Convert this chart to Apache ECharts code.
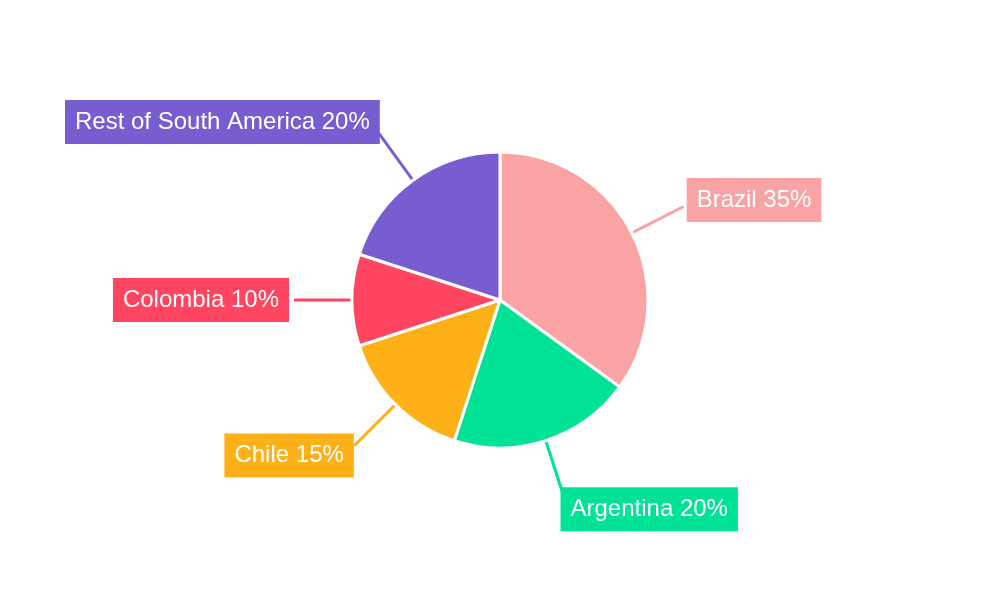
<!DOCTYPE html>
<html>
<head>
<meta charset="utf-8">
<script src="https://cdn.jsdelivr.net/npm/echarts@6/dist/echarts.min.js"></script>
<style>
html,body{margin:0;padding:0;background:#fff;}
#container{width:1000px;height:600px;}
</style>
</head>
<body>
<div id="container"></div>
<script>
let countries = ['Brazil', 'Argentina', 'Chile', 'Colombia', 'Rest of South America'];
let shares = [35, 20, 15, 10, 20];
let colors = ['#F9A3A4', '#00E396', '#FEB019', '#FF4560', '#775DD0'];

let data = countries.map((c, i) => ({
    name: c,
    value: shares[i],
    itemStyle: {color: colors[i]},
    label: {backgroundColor: colors[i]}
}));

// push the boxes a bit further out along the line's direction
function nudge(p){
    let pts = p.labelLinePoints;
    if(!pts) return {};
    let vx = pts[1][0] - pts[0][0], vy = pts[1][1] - pts[0][1];
    let len = Math.hypot(vx, vy) || 1;
    let ux = vx / len, uy = vy / len;
    return {dx: -Math.sign(ux) * 9 * uy * uy, dy: 14 * uy};
}

let chart = echarts.init(document.getElementById('container'));
chart.setOption({
    animation: false,
    series: [{
        type: 'pie',
        center: [500, 300],
        radius: 148,
        startAngle: 90,
        clockwise: true,
        itemStyle: {
            borderColor: '#fff',
            borderWidth: 3
        },
        label: {
            show: true,
            formatter: '{b} {c}%',
            color: '#fff',
            fontFamily: 'Liberation Sans, Arial, sans-serif',
            fontSize: 24,
            lineHeight: 24,
            padding: [10, 10]
        },
        labelLine: {
            show: true,
            length: 58,
            length2: 0,
            lineStyle: {width: 3}
        },
        labelLayout: nudge,
        data: data
    }]
});
</script>
</body>
</html>
